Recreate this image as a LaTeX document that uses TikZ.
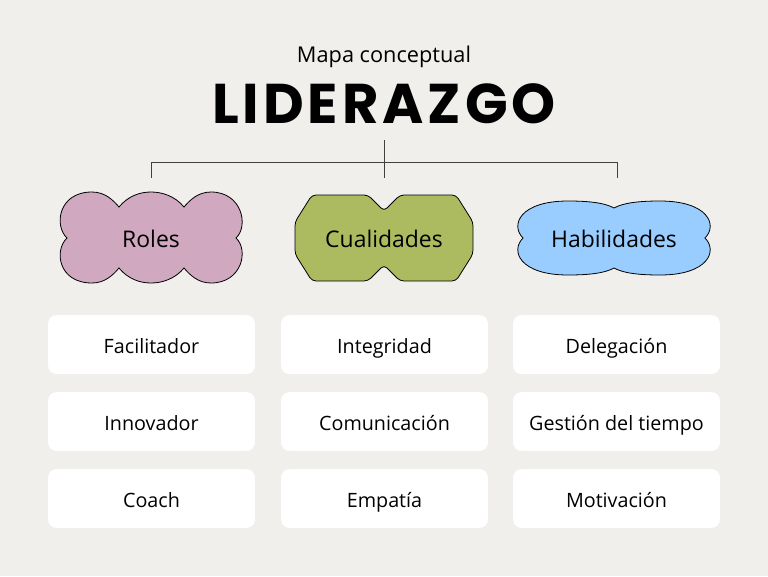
\documentclass[tikz,border=0pt]{standalone}
\usepackage{fontspec}
\setmainfont{Open Sans}
\newfontfamily\titlefont[LetterSpace=7]{Poppins}
\usepackage{tikz}
\usepackage{xcolor}
\usetikzlibrary{shapes}

\definecolor{paper}{RGB}{240,239,235}
\definecolor{rolecol}{RGB}{208,168,192}
\definecolor{qualcol}{RGB}{173,187,96}
\definecolor{skillcol}{RGB}{153,204,255}

\tikzset{
  item/.style={fill=white, rounded corners=6pt, minimum width=155pt, minimum height=44pt, inner sep=0pt, text height=13pt, text depth=0.2pt, font=\fontsize{14.8}{17}\selectfont},
  head/.style={inner sep=0.75pt, text height=14pt, text depth=0.5pt, font=\fontsize{17.2}{20}\selectfont},
  blob/.style={draw=black, line width=0.6pt},
  link/.style={draw=black!75, line width=0.75pt}
}

\begin{document}
\begin{tikzpicture}[x=0.75pt,y=0.75pt,yscale=-1,xscale=1]
%background, sets the page size
\fill[paper] (0,0) rectangle (768,576);

% Titles
\node[inner sep=0.75pt, font=\fontsize{16.3}{19}\selectfont] (mapa) at (384,57) {Mapa conceptual};
\node[inner sep=0.75pt, font=\titlefont\bfseries\fontsize{42}{48}\selectfont] (lider) at (384,104) {LIDERAZGO};

%Shape [Roles cloud]
\draw[blob, fill=rolecol] (67,238) .. controls (54,226) and (58,192) .. (92,192) .. controls (105,192) and (113,200) .. (119,207) .. controls (128,196) and (140,192) .. (151,192) .. controls (162,192) and (175,196) .. (184,207) .. controls (190,200) and (198,192) .. (211,192) .. controls (242,192) and (249,226) .. (236,238) .. controls (249,250) and (242,283) .. (211,283) .. controls (198,283) and (190,275) .. (184,268) .. controls (175,279) and (162,283) .. (151,283) .. controls (140,283) and (128,279) .. (119,268) .. controls (113,275) and (105,283) .. (92,283) .. controls (58,283) and (54,250) .. (67,238) -- cycle;
%Shape [Cualidades double octagon]
\draw[blob, fill=qualcol, rounded corners=3pt] (312,195) -- (368,195) -- (384,211) -- (400,195) -- (456,195) -- (473,222) -- (473,254) -- (456,281) -- (400,281) -- (384,265) -- (368,281) -- (312,281) -- (295,254) -- (295,222) -- cycle;
%Shape [Habilidades cloud]
\draw[blob, fill=skillcol] (523,238) .. controls (510,225) and (520,201) .. (568,201) .. controls (590,201) and (605,203) .. (614,208) .. controls (623,203) and (638,201) .. (660,201) .. controls (708,201) and (718,225) .. (705,238) .. controls (718,251) and (708,275) .. (660,275) .. controls (638,275) and (623,273) .. (614,268) .. controls (605,273) and (590,275) .. (568,275) .. controls (520,275) and (510,251) .. (523,238) -- cycle;

% Heads
\node[head] (roles) at (151,238) {Roles};
\node[head] (cual) at (384,238) {Cualidades};
\node[head] (habil) at (614,238) {Habilidades};

% Connector
\coordinate (stem) at (384,140);
\coordinate (hubL) at (151,162);
\coordinate (hubR) at (617,162);
\coordinate (endL) at (151,178);
\coordinate (endM) at (384,178);
\coordinate (endR) at (617,178);
\draw[link] (stem) -- (endM);
\draw[link] (endL) -- (hubL) -- (hubR) -- (endR);

% Boxes
\node[item] (facil) at (151.5,344.5) {Facilitador};
\node[item] (innov) at (151.5,421.5) {Innovador};
\node[item] (coach) at (151.5,498.5) {Coach};
\node[item] (integ) at (384.5,344.5) {Integridad};
\node[item] (comun) at (384.5,421.5) {Comunicación};
\node[item] (empat) at (384.5,498.5) {Empatía};
\node[item] (deleg) at (616.5,344.5) {Delegación};
\node[item] (gesti) at (616.5,421.5) {Gestión del tiempo};
\node[item] (motiv) at (616.5,498.5) {Motivación};

\end{tikzpicture}
\end{document}
